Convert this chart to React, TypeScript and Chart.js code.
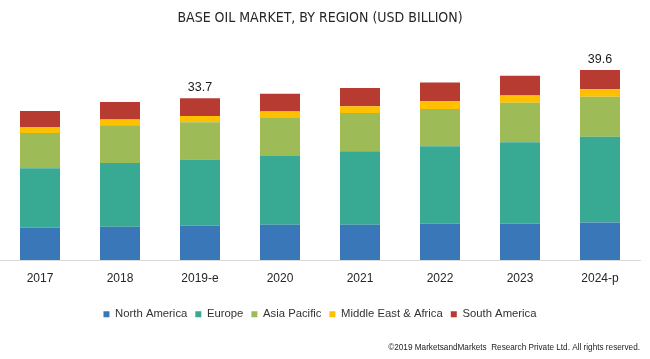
import React, { useEffect, useRef } from "react";
import { Chart, registerables } from "chart.js";

Chart.register(...registerables);

const categories = ["2017", "2018", "2019-e", "2020", "2021", "2022", "2023", "2024-p"];
const northAmerica = [6.8, 6.93, 7.22, 7.34, 7.34, 7.55, 7.63, 7.84];
const europe = [12.33, 13.31, 13.73, 14.35, 15.33, 16.16, 16.91, 17.88];
const asiaPacific = [7.35, 7.84, 7.76, 7.9, 7.97, 7.76, 8.26, 8.32];
const middleEastAfrica = [1.25, 1.19, 1.31, 1.39, 1.39, 1.66, 1.52, 1.54];
const southAmerica = [3.33, 3.66, 3.68, 3.68, 3.81, 3.89, 4.1, 4.01];
const totalLabels = ["", "", "33.7", "", "", "", "", "39.6"];
const seriesNames = ["North America", "Europe", "Asia Pacific", "Middle East & Africa", "South America"];
const seriesColors = ["#3A77B8", "#38A992", "#9DBB57", "#FFC000", "#B83B32"];
const titleText = "BASE OIL MARKET, BY REGION (USD BILLION)";
const copyrightText = "\u00A92019 MarketsandMarkets  Research Private Ltd. All rights reserved.";

const totalsPlugin = {
  id: "totalsPlugin",
  afterDatasetsDraw(chart: any) {
    const ctx = chart.ctx;
    const meta = chart.getDatasetMeta(chart.data.datasets.length - 1);
    ctx.save();
    ctx.font = "12.5px 'Liberation Sans', Arial, sans-serif";
    ctx.fillStyle = "#1a1a1a";
    ctx.textAlign = "center";
    ctx.textBaseline = "alphabetic";
    meta.data.forEach((bar: any, i: number) => {
      if (totalLabels[i]) ctx.fillText(totalLabels[i], bar.x, bar.y - 7);
    });
    ctx.restore();
  },
};

const copyrightPlugin = {
  id: "copyrightPlugin",
  afterDraw(chart: any) {
    const ctx = chart.ctx;
    ctx.save();
    ctx.font = "8.2px 'Liberation Sans', Arial, sans-serif";
    ctx.fillStyle = "#222222";
    ctx.textAlign = "right";
    ctx.textBaseline = "middle";
    ctx.fillText(copyrightText, 640, 348);
    ctx.restore();
  },
};

export default function App() {
  const canvasRef = useRef<HTMLCanvasElement | null>(null);

  useEffect(() => {
    if (!canvasRef.current) return;
    const seriesData = [northAmerica, europe, asiaPacific, middleEastAfrica, southAmerica];
    const chart = new Chart(canvasRef.current, {
      type: "bar",
      data: {
        labels: categories,
        datasets: seriesNames.map((name, i) => ({
          label: name,
          data: seriesData[i],
          backgroundColor: seriesColors[i],
          borderWidth: 0,
          categoryPercentage: 1,
          barPercentage: 0.5,
        })),
      },
      options: {
        animation: false,
        responsive: true,
        maintainAspectRatio: false,
        layout: { padding: { left: 0, right: 10, top: 0, bottom: 29 } },
        scales: {
          x: {
            stacked: true,
            grid: { display: false },
            border: { display: true, color: "#D9D9D9", width: 1 },
            ticks: {
              color: "#262626",
              font: { family: "'Liberation Sans', Arial, sans-serif", size: 12 },
              padding: 3,
            },
            title: {
              display: true,
              text: " ",
              font: { size: 1 },
              padding: { top: 0, bottom: 11 },
            },
          },
          y: {
            stacked: true,
            display: false,
            min: 0,
            max: 42.15,
          },
        },
        plugins: {
          title: {
            display: true,
            text: titleText,
            color: "#262626",
            font: { family: "'Liberation Sans Narrow', 'DejaVu Sans Condensed', Arial, sans-serif", size: 14, weight: "normal" },
            padding: { top: 10, bottom: 31 },
          },
          legend: {
            position: "bottom",
            labels: {
              boxWidth: 6,
              boxHeight: 6,
              padding: 8,
              color: "#333333",
              font: { family: "'Liberation Sans', Arial, sans-serif", size: 11.3 },
            },
          },
          tooltip: { enabled: false },
        },
      },
      plugins: [totalsPlugin, copyrightPlugin],
    });
    return () => chart.destroy();
  }, []);

  return (
    <div style={{ position: "absolute", left: 0, top: 0, width: 650, height: 359, background: "#ffffff" }}>
      <canvas ref={canvasRef} />
    </div>
  );
}
